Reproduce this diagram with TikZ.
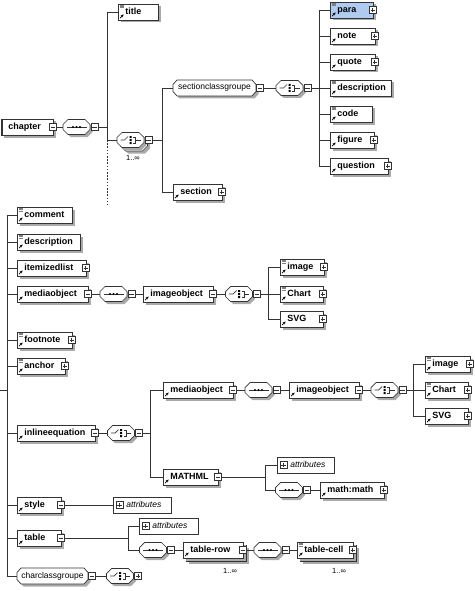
\documentclass[tikz,border=0pt]{standalone}
\usepackage{fontspec}
\setmainfont{Liberation Sans}
\usetikzlibrary{shadows,calc,arrows.meta}
\definecolor{bdr}{HTML}{333333}
\definecolor{shd}{HTML}{AAAAAA}
\definecolor{parab}{HTML}{AFCBEF}
\newcommand\elfont{\fontsize{9}{10}\selectfont\bfseries}
\newcommand\grfont{\fontsize{8.5}{10}\selectfont}
\newcommand\atfont{\fontsize{8.5}{10}\selectfont\itshape}
\tikzset{
 conn/.style={draw=bdr, line width=0.9pt},
 el/.style={draw=bdr, fill=white, line width=0.7pt, anchor=west, inner xsep=0pt, inner ysep=0pt, minimum height=16pt, align=left, font=\elfont, text height=6.5pt, text depth=2pt, drop shadow={shadow xshift=2.5pt, shadow yshift=-2.5pt, fill=shd, opacity=1}},
 attr/.style={draw=bdr, fill=white, line width=0.6pt, anchor=west, inner xsep=0pt, inner ysep=0pt, minimum height=16pt, align=left, font=\atfont, text height=6.5pt, text depth=2pt},
 xb/.style={draw=bdr, fill=white, line width=0.6pt, minimum size=7pt, inner sep=0pt},
 xminus/.style={xb, path picture={\draw[bdr,line width=0.6pt] ($(path picture bounding box.west)+(1.4,0)$) -- ($(path picture bounding box.east)+(-1.4,0)$);}},
 xplus/.style={xb, path picture={\draw[bdr,line width=0.6pt] ($(path picture bounding box.west)+(1.4,0)$) -- ($(path picture bounding box.east)+(-1.4,0)$) ($(path picture bounding box.north)+(0,1.4)$) -- ($(path picture bounding box.south)+(0,-1.4)$);}},
 mult/.style={font=\fontsize{7.5}{8}\selectfont, inner sep=0pt},
 grp/.style={inner sep=0pt, font=\grfont, minimum height=16pt, text height=6pt, text depth=2pt},
}
\newcommand\El[6][]{\node[el,#1,text width=#5pt] (#2) at (#3,#4) {\hspace*{7pt}#6};}
\newcommand\Ar[1]{\draw[-{Stealth[length=2.8pt,width=2.8pt]}, line width=0.7pt] ($(#1.south west)+(2,-2.2)$) -- ++(3.6,-3.6);}
\newcommand\Dc[1]{\draw[gray, line width=0.5pt] ($(#1.north west)+(1.5,1.5)$) -- ++(4,0) ++(-4,1.3) -- ++(4,0) ++(-4,1.3) -- ++(4,0);}
\newcommand\Xm[1]{\node[xminus] (#1X) at ($(#1.east)+(-1,0)$) {};}
\newcommand\Xp[1]{\node[xplus] (#1X) at ($(#1.east)+(-1,0)$) {};}
\newcommand\At[4]{\node[attr,text width=#4pt] (#1) at (#2,#3) {\hspace*{13pt}attributes};
 \node[xplus] (#1P) at ($(#1.west)+(6.5,0)$) {};}
\newcommand\OctP[3]{({#1-#3},{#2-2.5}) -- ({#1-#3+5},{#2-7.5}) -- ({#1+#3-5},{#2-7.5}) -- ({#1+#3},{#2-2.5}) -- ({#1+#3},{#2+2.5}) -- ({#1+#3-5},{#2+7.5}) -- ({#1-#3+5},{#2+7.5}) -- ({#1-#3},{#2+2.5}) -- cycle}
\newcommand\GrpP[3]{({#1},{#3-3.5}) -- ({#1+4},{#3-8}) -- ({#2-4},{#3-8}) -- ({#2},{#3-3.5}) -- ({#2},{#3+3.5}) -- ({#2-4},{#3+8}) -- ({#1+4},{#3+8}) -- ({#1},{#3+3.5}) -- cycle}
\newcommand\SeqIcon[2]{\draw[bdr,line width=0.7pt] ({#1-10},#2) -- ({#1+10},#2);
 \fill[black] ({#1-3.5},#2) circle (1.2pt) (#1,#2) circle (1.2pt) ({#1+3.5},#2) circle (1.2pt);}
\newcommand\ChoIcon[2]{\draw[bdr,line width=0.7pt] ({#1-10},#2) -- ({#1-6},#2) -- ({#1-2.5},{#2-3.5});
 \fill[black] ({#1-0.8},{#2-4}) rectangle ({#1+1.2},{#2-2}) ({#1-0.8},{#2-1}) rectangle ({#1+1.2},{#2+1}) ({#1-0.8},{#2+2}) rectangle ({#1+1.2},{#2+4});
 \draw[bdr,line width=0.7pt] ({#1+2.5},{#2-3}) -- ({#1+5},{#2-3}) -- ({#1+5},{#2+3}) -- ({#1+2.5},{#2+3}) ({#1+5},#2) -- ({#1+10},#2);}
\newcommand\Comp[5]{%
 \fill[shd,shift={(2.5,2.5)}]\OctP{#2}{#3}{13.5};
 \draw[bdr,fill=white,line width=0.7pt]\OctP{#2}{#3}{13.5};
 \node[inner sep=0pt,minimum width=27pt,minimum height=15pt] (#1) at (#2,#3) {};
 \ifx S#4\SeqIcon{#2}{#3}\else\ChoIcon{#2}{#3}\fi
 \node[#5] (#1X) at ({#2+18},#3) {};}
\newcommand\CompBack[2]{%
 \fill[shd,shift={(6,6)}]\OctP{#1}{#2}{13.5};
 \draw[bdr,fill=white,line width=0.7pt,shift={(3.5,3.5)}]\OctP{#1}{#2}{13.5};}
\newcommand\ElBack[3]{%
 \fill[shd] ({#1+5.5},{#2-2.5}) rectangle ({#1+#3+5.5},{#2+13.5});
 \draw[bdr,fill=white,line width=0.7pt] ({#1+3},{#2-5}) rectangle ({#1+#3+3},{#2+11});}
\newcommand\Grp[6]{%
 \fill[shd,shift={(2.5,2.5)}]\GrpP{#2}{#3}{#4};
 \draw[bdr,fill=white,line width=0.7pt]\GrpP{#2}{#3}{#4};
 \node[grp,minimum width={(#3-#2)*1pt}] (#1) at ({(#2+#3)/2},#4) {#5};
 \node[#6] (#1X) at ({#3+4},#4) {};}
\begin{document}
\begin{tikzpicture}[x=1pt,y=-1pt]
\useasboundingbox[fill=white] (0,0) rectangle (474,591);
% ---------- top part ----------
\El{chapter}{1}{127}{52}{chapter}
\draw[bdr,line width=2.2pt] ($(chapter.north west)+(1.1,0)$) -- ($(chapter.south west)+(1.1,0)$);
\Xm{chapter}
\Comp{seqA}{76.5}{127}{S}{xminus}
\El{title}{118}{12}{40}{title}\Dc{title}\Ar{title}
\CompBack{130.5}{140}
\Comp{choA}{130.5}{140}{C}{xminus}
\node[mult] (multA) at (133,158) {1..∞};
\Grp{scg}{173}{256}{88}{sectionclassgroupe}{xminus}
\Comp{choB}{289.5}{88}{C}{xminus}
\El{section}{173}{192}{49}{section}\Ar{section}\Xp{section}
\El[fill=parab]{para}{330}{10}{43}{para}\Dc{para}\Ar{para}\Xp{para}
\El{note}{330}{36}{45}{note}\Ar{note}\Xp{note}
\El{quote}{330}{62}{45}{quote}\Ar{quote}\Xp{quote}
\El{descA}{330}{88}{61}{description}\Dc{descA}\Ar{descA}
\El{code}{330}{114}{42}{code}\Dc{code}\Ar{code}
\El{figure}{330}{140}{44}{figure}\Ar{figure}\Xp{figure}
\El{question}{330}{166}{58}{question}\Ar{question}\Xp{question}
% ---------- lower part ----------
\El{comment}{17}{215}{55}{comment}\Dc{comment}\Ar{comment}
\El{descB}{17}{242}{63}{description}\Dc{descB}\Ar{descB}
\El{itemized}{17}{268}{69}{itemizedlist}\Ar{itemized}\Xp{itemized}
\El{mediaA}{17}{294}{71}{mediaobject}\Ar{mediaA}\Xm{mediaA}
\Comp{seqC}{113.5}{294}{S}{xminus}
\El{imgobjA}{143}{294}{70}{imageobject}\Ar{imgobjA}\Xm{imgobjA}
\Comp{choC}{239}{294}{C}{xminus}
\El{imageA}{280}{267}{44}{image}\Dc{imageA}\Ar{imageA}\Xp{imageA}
\El{chartA}{280}{294}{43}{Chart}\Dc{chartA}\Ar{chartA}\Xp{chartA}
\El{svgA}{280}{319}{43}{SVG}\Ar{svgA}\Xp{svgA}
\El{footnote}{17}{340}{55}{footnote}\Dc{footnote}\Ar{footnote}\Xp{footnote}
\El{anchorN}{17}{366}{48}{anchor}\Dc{anchorN}\Ar{anchorN}\Xp{anchorN}
\El{inline}{17}{433}{78}{inlineequation}\Ar{inline}\Xm{inline}
\Comp{choD}{121}{433}{C}{xminus}
\El{mediaB}{163}{390}{70}{mediaobject}\Ar{mediaB}\Xm{mediaB}
\Comp{seqD}{258.5}{390}{S}{xminus}
\El{imgobjB}{289}{390}{70}{imageobject}\Ar{imgobjB}\Xm{imgobjB}
\Comp{choE}{384.5}{390}{C}{xminus}
\El{imageB}{425}{364}{45}{image}\Dc{imageB}\Ar{imageB}\Xp{imageB}
\El{chartB}{425}{390}{43}{Chart}\Dc{chartB}\Ar{chartB}\Xp{chartB}
\El{svgB}{425}{416}{43}{SVG}\Ar{svgB}\Xp{svgB}
\El{mathml}{163}{477}{55}{MATHML}\Ar{mathml}\Xm{mathml}
\At{attrA}{277}{465}{57}
\Comp{seqE}{289}{490}{S}{xminus}
\El{mathmath}{320}{490}{64}{math:math}\Ar{mathmath}\Xp{mathmath}
\El{styleN}{17}{505}{44}{style}\Ar{styleN}\Xm{styleN}
\At{attrB}{113}{505}{58}
\El{tableN}{17}{538}{44}{table}\Ar{tableN}\Xm{tableN}
\At{attrC}{139}{526}{59}
\Comp{seqF}{153}{550}{S}{xminus}
\ElBack{183}{550}{60}
\El{tablerow}{183}{550}{60}{table-row}\Ar{tablerow}\Xm{tablerow}
\node[mult] (multB) at (230,571) {1..∞};
\Comp{seqG}{267.5}{550}{S}{xminus}
\ElBack{297}{550}{56}
\El{tablecell}{297}{550}{56}{table-cell}\Dc{tablecell}\Ar{tablecell}\Xp{tablecell}
\node[mult] (multC) at (339,571) {1..∞};
\Grp{ccg}{17}{88}{576}{charclassgroupe}{xminus}
\Comp{choF}{120}{576}{C}{xplus}
% ---------- connectors ----------
\draw[conn] (chapterX.east) -- (seqA.west);
\coordinate (jA) at (107,127);
\coordinate (jAend) at (107,205);
\draw[conn] (seqAX.east) -- (jA);
\draw[conn] (jA) |- (title.west);
\draw[conn] (jA) |- (choA.west);
\draw[bdr,line width=0.8pt,dash pattern=on 1.6pt off 1.6pt] (jA |- choA.west) -- (jAend);
\coordinate (jB) at (162,140);
\draw[conn] (choAX.east) -- (jB);
\draw[conn] (jB) |- (scg.west);
\draw[conn] (jB) |- (section.west);
\draw[conn] (scgX.east) -- (choB.west);
\coordinate (jC) at (319,88);
\draw[conn] (choBX.east) -- (jC);
\foreach \n in {para,note,quote,descA,code,figure,question} \draw[conn] (jC) |- (\n.west);
\coordinate (jL0) at (0,390);
\coordinate (jL) at (7,390);
\draw[conn] (jL0) -- (jL);
\foreach \n in {comment,descB,itemized,mediaA,footnote,anchorN,inline,styleN,tableN,ccg} \draw[conn] (jL) |- (\n.west);
\draw[conn] (mediaAX.east) -- (seqC.west);
\draw[conn] (seqCX.east) -- (imgobjA.west);
\draw[conn] (imgobjAX.east) -- (choC.west);
\coordinate (jD) at (268,294);
\draw[conn] (choCX.east) -- (jD);
\foreach \n in {imageA,chartA,svgA} \draw[conn] (jD) |- (\n.west);
\draw[conn] (inlineX.east) -- (choD.west);
\coordinate (jE) at (150,433);
\draw[conn] (choDX.east) -- (jE);
\draw[conn] (jE) |- (mediaB.west);
\draw[conn] (jE) |- (mathml.west);
\draw[conn] (mediaBX.east) -- (seqD.west);
\draw[conn] (seqDX.east) -- (imgobjB.west);
\draw[conn] (imgobjBX.east) -- (choE.west);
\coordinate (jF) at (413,390);
\draw[conn] (choEX.east) -- (jF);
\foreach \n in {imageB,chartB,svgB} \draw[conn] (jF) |- (\n.west);
\coordinate (jG) at (265,477);
\draw[conn] (mathmlX.east) -- (jG);
\draw[conn] (jG) |- (attrA.west);
\draw[conn] (jG) |- (seqE.west);
\draw[conn] (seqEX.east) -- (mathmath.west);
\draw[conn] (styleNX.east) -- (attrB.west);
\coordinate (jH) at (128,538);
\draw[conn] (tableNX.east) -- (jH);
\draw[conn] (jH) |- (attrC.west);
\draw[conn] (jH) |- (seqF.west);
\draw[conn] (seqFX.east) -- (tablerow.west);
\draw[conn] (tablerowX.east) -- (seqG.west);
\draw[conn] (seqGX.east) -- (tablecell.west);
\draw[conn] (ccgX.east) -- (choF.west);
\end{tikzpicture}
\end{document}
